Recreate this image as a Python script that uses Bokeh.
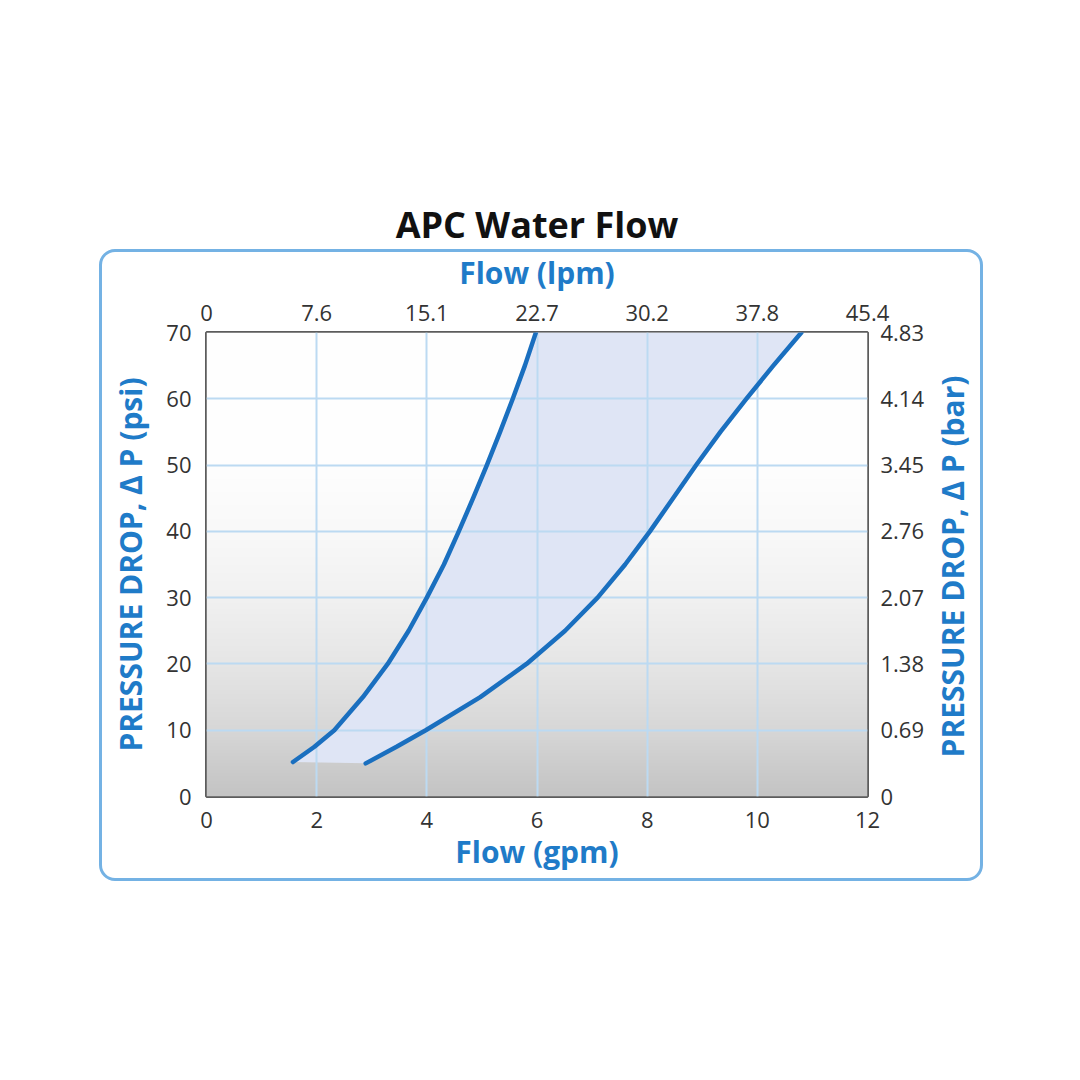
import math
import numpy as np
from bokeh.plotting import figure
from bokeh.models import LinearAxis, FixedTicker, Range1d, InlineStyleSheet
from bokeh.embed import file_html
from bokeh.resources import INLINE

# ---- data ----
chart_title = "APC Water Flow"
x_bottom_title = "Flow (gpm)"
x_top_title = "Flow (lpm)"
y_left_title = "PRESSURE DROP, \u0394 P (psi)"
y_right_title = "PRESSURE DROP, \u0394 P (bar)"
gpm_ticks = [0, 2, 4, 6, 8, 10, 12]
lpm_labels = ["0", "7.6", "15.1", "22.7", "30.2", "37.8", "45.4"]
psi_ticks = [0, 10, 20, 30, 40, 50, 60, 70]
bar_labels = ["0", "0.69", "1.38", "2.07", "2.76", "3.45", "4.14", "4.83"]

low_curve_psi = [5.2, 7.5, 10, 15, 20, 25, 30, 35, 40, 45, 50, 55, 60, 65, 70]
low_curve_gpm = [1.57, 1.96, 2.32, 2.84, 3.29, 3.67, 4.00, 4.31, 4.58, 4.84, 5.09, 5.33, 5.56, 5.78, 5.98]
high_curve_psi = [5.0, 7.5, 10, 15, 20, 25, 30, 35, 40, 45, 50, 55, 60, 65, 70]
high_curve_gpm = [2.89, 3.45, 3.98, 4.97, 5.81, 6.51, 7.10, 7.60, 8.05, 8.47, 8.89, 9.33, 9.80, 10.29, 10.80]

FONT = "Open Sans"
BLUE = "#1f7bc8"

# ---- figure ----
p = figure(width=1064, height=1064,
           x_range=Range1d(0, 12), y_range=Range1d(0, 70),
           output_backend="svg", toolbar_location=None,
           min_border_left=206, min_border_right=197,
           min_border_top=332, min_border_bottom=268)
p.background_fill_color = "white"
p.border_fill_color = "white"
p.outline_line_color = "#5c5c5c"
p.outline_line_width = 3

# rounded frame round the chart (page decoration)
p.stylesheets = [InlineStyleSheet(css="""
:host { position: relative; }
:host::after { content: ''; position: absolute; left: 99px; top: 249px;
  width: 878px; height: 626px; border: 3px solid #74b2e4; border-radius: 16px;
  pointer-events: none; }
""")]

# title
p.title.text = chart_title
p.title.align = "center"
p.title.text_font = FONT
p.title.text_font_size = "36px"
p.title.text_font_style = "bold"
p.title.text_color = "#111111"
p.title.standoff = 0

# background gradient (decorative)
ys = np.linspace(0, 70, 281)
shade = np.interp(ys, [0, 5, 10, 20, 30, 40, 50, 70], [196, 205, 215, 230, 241, 249, 254, 255]).astype(np.uint8)
img = np.empty((len(ys), 1), dtype=np.uint32)
view = img.view(dtype=np.uint8).reshape((len(ys), 1, 4))
view[:, 0, 0] = shade
view[:, 0, 1] = shade
view[:, 0, 2] = shade
view[:, 0, 3] = 255
p.image_rgba(image=[img], x=0, y=0, dw=12, dh=70, level="image")

# band between curves
band_x = low_curve_gpm + high_curve_gpm[::-1]
band_y = low_curve_psi + high_curve_psi[::-1]
p.patch(band_x, band_y, fill_color="#dfe5f5", line_color=None, level="image")

# grid
p.xgrid.ticker = FixedTicker(ticks=gpm_ticks)
p.ygrid.ticker = FixedTicker(ticks=psi_ticks)
for g in (p.xgrid, p.ygrid):
    g.grid_line_color = "#bcdaf2"
    g.grid_line_width = 2

# curves
curve_color = "#1a6fbf"
p.line(low_curve_gpm, low_curve_psi, line_color=curve_color, line_width=4.5, line_cap="round", line_join="round")
p.line(high_curve_gpm, high_curve_psi, line_color=curve_color, line_width=4.5, line_cap="round", line_join="round")

def style(ax, label):
    ax.axis_label = label
    ax.axis_line_color = None
    ax.major_tick_line_color = None
    ax.minor_tick_line_color = None
    ax.major_label_text_font = FONT
    ax.major_label_text_font_size = "22px"
    ax.major_label_text_color = "#333333"
    ax.axis_label_text_font = FONT
    ax.axis_label_text_font_style = "bold"
    ax.axis_label_text_font_size = "30px"
    ax.axis_label_text_color = BLUE

bx = p.xaxis[0]
bx.ticker = FixedTicker(ticks=gpm_ticks)
style(bx, x_bottom_title)
bx.major_label_standoff = 9
bx.axis_label_standoff = 0

ly = p.yaxis[0]
ly.ticker = FixedTicker(ticks=psi_ticks)
style(ly, y_left_title)
ly.major_label_standoff = 9
ly.axis_label_standoff = 12

tx = LinearAxis(ticker=FixedTicker(ticks=gpm_ticks),
                major_label_overrides={t: s for t, s in zip(gpm_ticks, lpm_labels)})
style(tx, x_top_title)
tx.major_label_standoff = 6
tx.axis_label_standoff = 9
p.add_layout(tx, "above")

# right axis: bar tick labels
ry = LinearAxis(ticker=FixedTicker(ticks=psi_ticks),
                major_label_overrides={t: s for t, s in zip(psi_ticks, bar_labels)})
style(ry, "")
ry.major_label_standoff = 7
p.add_layout(ry, "right")

# right axis title, reading bottom to top: drawn as the one rotated label of a
# second right-hand axis, anchored where the title starts
right_title_anchor = 5.9
ry_title = LinearAxis(ticker=FixedTicker(ticks=[right_title_anchor]),
                      major_label_overrides={right_title_anchor: y_right_title})
style(ry_title, "")
ry_title.major_label_orientation = math.pi / 2
ry_title.major_label_text_font_size = "30px"
ry_title.major_label_text_font_style = "bold"
ry_title.major_label_text_color = BLUE
ry_title.major_label_standoff = 19
p.add_layout(ry_title, "right")

open("out.html", "w").write(file_html(p, INLINE))
